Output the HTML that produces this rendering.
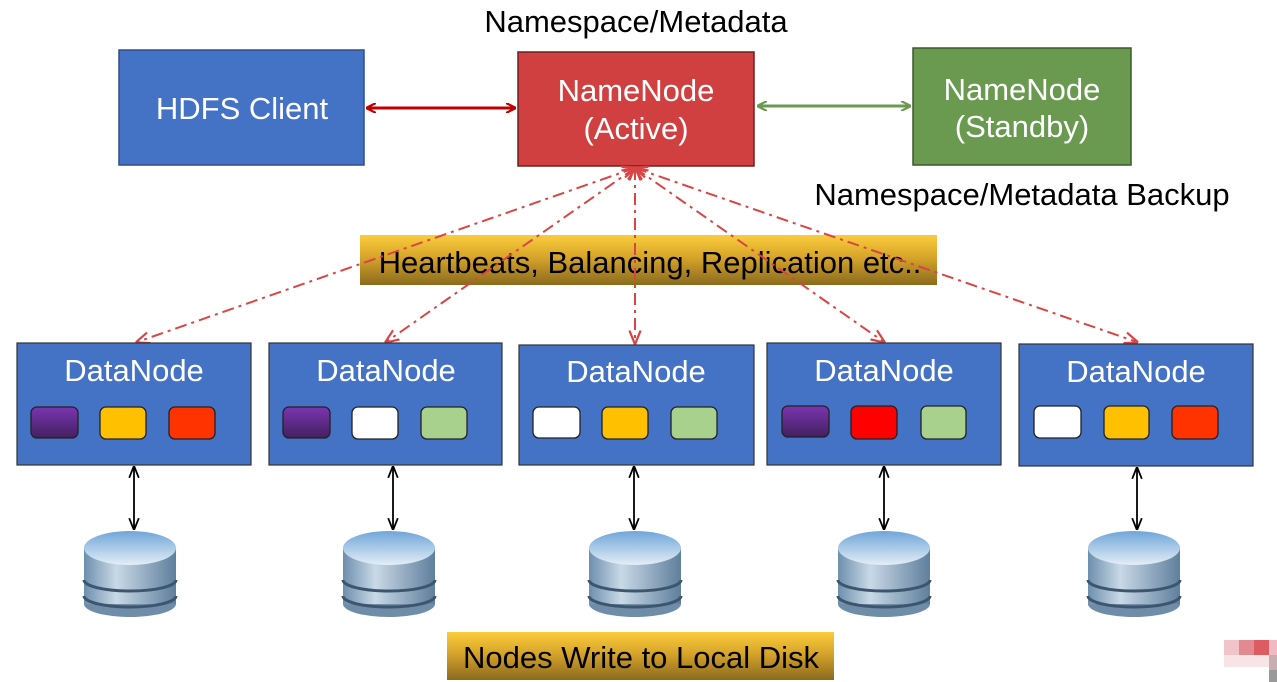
<!DOCTYPE html>
<html><head><meta charset="utf-8"><style>
html,body{margin:0;padding:0;background:#fff;}
svg{display:block;font-family:"Liberation Sans",Arial,sans-serif;}
</style></head><body>
<svg width="1277" height="682" viewBox="0 0 1277 682" xmlns="http://www.w3.org/2000/svg">
<defs>
<linearGradient id="gold" x1="0" y1="0" x2="0" y2="1"><stop offset="0" stop-color="#fbcd3c"/><stop offset="0.45" stop-color="#d6a42a"/><stop offset="1" stop-color="#8a6a1e"/></linearGradient>
<linearGradient id="purp" x1="0" y1="0" x2="0" y2="1"><stop offset="0" stop-color="#7a35b0"/><stop offset="1" stop-color="#43205e"/></linearGradient>
<linearGradient id="dtop" x1="0" y1="0" x2="0" y2="1"><stop offset="0" stop-color="#6fa6d8"/><stop offset="1" stop-color="#e4eef6"/></linearGradient>
<linearGradient id="dside" x1="0" y1="0" x2="1" y2="0"><stop offset="0" stop-color="#6d8fae"/><stop offset="0.35" stop-color="#c9d9e6"/><stop offset="1" stop-color="#5f7f9c"/></linearGradient>
<marker id="ar" viewBox="0 0 10 10" refX="9" refY="5" markerWidth="10" markerHeight="10" orient="auto-start-reverse" markerUnits="userSpaceOnUse"><path d="M0,0 L10,5 L0,10" fill="none" stroke="#c00000" stroke-width="2.2"/></marker>
<marker id="ag" viewBox="0 0 10 10" refX="9" refY="5" markerWidth="10" markerHeight="10" orient="auto-start-reverse" markerUnits="userSpaceOnUse"><path d="M0,0 L10,5 L0,10" fill="none" stroke="#6a9a50" stroke-width="2.2"/></marker>
<marker id="ad" viewBox="0 0 10 10" refX="9" refY="5" markerWidth="14" markerHeight="14" orient="auto-start-reverse" markerUnits="userSpaceOnUse"><path d="M0,1 L10,5 L0,9" fill="none" stroke="#d94545" stroke-width="1.6"/></marker>
<marker id="ab" viewBox="0 0 10 10" refX="9" refY="5" markerWidth="12" markerHeight="12" orient="auto-start-reverse" markerUnits="userSpaceOnUse"><path d="M0,1 L10,5 L0,9" fill="none" stroke="#000" stroke-width="1.5"/></marker>
<g id="disk">
<ellipse cx="0" cy="604" rx="46" ry="13" fill="#6f8ca8"/>
<rect x="-46" y="548" width="92" height="56" fill="url(#dside)"/>
<path d="M-46,596 A46,11 0 0 0 46,596" fill="none" stroke="#3d566e" stroke-width="3"/>
<path d="M-46,580 A46,11 0 0 0 46,580" fill="none" stroke="#3d566e" stroke-width="3"/>
<ellipse cx="0" cy="548" rx="46" ry="17" fill="url(#dtop)"/>
</g>
</defs>

<text x="636" y="32" font-size="31" text-anchor="middle" fill="#000">Namespace/Metadata</text>
<text x="1022" y="205" font-size="31" text-anchor="middle" fill="#000">Namespace/Metadata Backup</text>

<rect x="119" y="50" width="245" height="115" fill="#4472c4" stroke="#2f4f8a" stroke-width="1.5"/>
<text x="242" y="119" font-size="31" text-anchor="middle" fill="#fff">HDFS Client</text>
<rect x="518" y="52" width="236" height="114" fill="#d04040" stroke="#6b2020" stroke-width="1.5"/>
<text x="636" y="101" font-size="31" text-anchor="middle" fill="#fff">NameNode</text>
<text x="636" y="139" font-size="31" text-anchor="middle" fill="#fff">(Active)</text>
<rect x="913" y="48" width="218" height="117" fill="#6a9a50" stroke="#3b5a2c" stroke-width="1.5"/>
<text x="1022" y="100" font-size="31" text-anchor="middle" fill="#fff">NameNode</text>
<text x="1022" y="137" font-size="31" text-anchor="middle" fill="#fff">(Standby)</text>

<line x1="367" y1="108" x2="515" y2="108" stroke="#c00000" stroke-width="3" marker-start="url(#ar)" marker-end="url(#ar)"/>
<line x1="758" y1="106" x2="910" y2="106" stroke="#6a9a50" stroke-width="3" marker-start="url(#ag)" marker-end="url(#ag)"/>

<rect x="360" y="235" width="577" height="50" fill="url(#gold)"/>
<text x="650" y="273" font-size="31" text-anchor="middle" fill="#000">Heartbeats, Balancing, Replication etc..</text>

<g stroke="#d94545" stroke-width="2" stroke-dasharray="12,5,3,5" fill="none">
<line x1="635" y1="168" x2="137" y2="342" marker-start="url(#ad)" marker-end="url(#ad)"/>
<line x1="635" y1="168" x2="386" y2="342" marker-start="url(#ad)" marker-end="url(#ad)"/>
<line x1="635" y1="168" x2="635" y2="343" marker-start="url(#ad)" marker-end="url(#ad)"/>
<line x1="635" y1="168" x2="884" y2="342" marker-start="url(#ad)" marker-end="url(#ad)"/>
<line x1="635" y1="168" x2="1137" y2="342" marker-start="url(#ad)" marker-end="url(#ad)"/>
</g>

<g font-size="31" fill="#fff" text-anchor="middle">
<rect x="17" y="343" width="234" height="122" fill="#4472c4" stroke="#333" stroke-width="1.2"/>
<text x="134" y="381">DataNode</text>
<rect x="269" y="343" width="233" height="122" fill="#4472c4" stroke="#333" stroke-width="1.2"/>
<text x="386" y="381">DataNode</text>
<rect x="519" y="345" width="235" height="120" fill="#4472c4" stroke="#333" stroke-width="1.2"/>
<text x="636" y="382">DataNode</text>
<rect x="767" y="343" width="234" height="122" fill="#4472c4" stroke="#333" stroke-width="1.2"/>
<text x="884" y="381">DataNode</text>
<rect x="1019" y="344" width="234" height="122" fill="#4472c4" stroke="#333" stroke-width="1.2"/>
<text x="1136" y="382">DataNode</text>
</g>

<g stroke="#222" stroke-width="1.3">
<rect x="31" y="407" width="47" height="31" rx="6" fill="url(#purp)"/>
<rect x="100" y="407" width="46" height="32" rx="6" fill="#ffc000"/>
<rect x="169" y="407" width="46" height="32" rx="6" fill="#ff3300"/>
<rect x="283" y="407" width="47" height="31" rx="6" fill="url(#purp)"/>
<rect x="352" y="407" width="46" height="32" rx="6" fill="#fff"/>
<rect x="421" y="407" width="46" height="32" rx="6" fill="#a9d18e"/>
<rect x="533" y="407" width="47" height="31" rx="6" fill="#fff"/>
<rect x="602" y="407" width="46" height="32" rx="6" fill="#ffc000"/>
<rect x="671" y="407" width="46" height="32" rx="6" fill="#a9d18e"/>
<rect x="782" y="406" width="47" height="31" rx="6" fill="url(#purp)"/>
<rect x="851" y="406" width="46" height="33" rx="6" fill="#ff0000"/>
<rect x="921" y="406" width="45" height="33" rx="6" fill="#a9d18e"/>
<rect x="1034" y="406" width="47" height="32" rx="6" fill="#fff"/>
<rect x="1104" y="406" width="45" height="33" rx="6" fill="#ffc000"/>
<rect x="1172" y="406" width="46" height="33" rx="6" fill="#ff3300"/>
</g>

<g stroke="#000" stroke-width="1.8">
<line x1="134" y1="467" x2="134" y2="529" marker-start="url(#ab)" marker-end="url(#ab)"/>
<line x1="393" y1="467" x2="393" y2="529" marker-start="url(#ab)" marker-end="url(#ab)"/>
<line x1="634" y1="467" x2="634" y2="529" marker-start="url(#ab)" marker-end="url(#ab)"/>
<line x1="884" y1="467" x2="884" y2="529" marker-start="url(#ab)" marker-end="url(#ab)"/>
<line x1="1137" y1="468" x2="1137" y2="529" marker-start="url(#ab)" marker-end="url(#ab)"/>
</g>

<use href="#disk" x="130" y="0"/>
<use href="#disk" x="389" y="0"/>
<use href="#disk" x="635" y="0"/>
<use href="#disk" x="884" y="0"/>
<use href="#disk" x="1134" y="0"/>

<rect x="447" y="632" width="387" height="48" fill="url(#gold)"/>
<text x="641" y="668" font-size="31" text-anchor="middle" fill="#000">Nodes Write to Local Disk</text>

<rect x="1224" y="640" width="15" height="15" fill="#f0c4c8"/>
<rect x="1239" y="640" width="15" height="15" fill="#e28a90"/>
<rect x="1254" y="640" width="15" height="15" fill="#dc5c62"/>
<rect x="1269" y="640" width="8" height="15" fill="#eebcc0"/>
<rect x="1224" y="655" width="45" height="12" fill="#f7e4e6"/>
<rect x="1269" y="655" width="8" height="15" fill="#c8aeb0"/>
<rect x="1269" y="670" width="8" height="12" fill="#999"/>
</svg>
</body></html>
